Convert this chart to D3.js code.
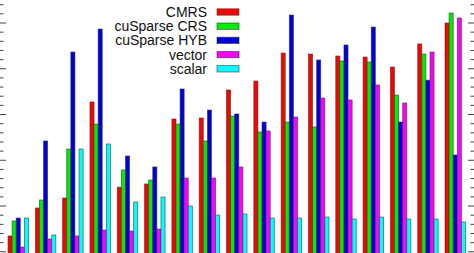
<!DOCTYPE html>
<html>
<head>
<meta charset="UTF-8">
<title>SpMV bars</title>
<style>
body { margin:0; background:white; }
</style>
</head>
<script src="https://d3js.org/d3.v7.min.js"></script>
<body>
<script type="text/javascript">
// matrices (x labels are cut off in the picture, so just numbered)
var groups = ["m1","m2","m3","m4","m5","m6","m7","m8","m9","m10","m11","m12","m13","m14","m15","m16","m17"]
var series = ["CMRS","cuSparse CRS","cuSparse HYB","vector","scalar"]
var colors = ["#ff0000","#00ee00","#0000dd","#ff00ff","#00ffff"]

var cmrs   = [1.73,4.79,5.88,16.37,7.06,7.41,14.51,14.62,17.68,18.66,21.72,21.61,21.39,21.28,20.19,22.71,25.00]
var cuCRS  = [3.37,5.66,11.23,13.96,8.94,7.84,13.96,12.11,14.84,13.09,14.18,13.64,20.85,20.74,17.13,21.61,26.09]
var cuHYB  = [3.69,12.11,21.83,24.34,10.47,9.27,17.79,15.49,15.06,14.18,25.87,20.96,22.60,24.56,14.18,18.75,10.58]
var vector = [0.52,1.40,1.73,2.38,2.27,2.49,8.06,8.06,9.27,13.20,14.73,16.80,16.59,18.23,16.26,21.83,25.55]
var scalar = [3.69,1.84,11.23,11.78,5.44,5.99,5.00,4.02,4.13,3.69,3.69,3.80,3.58,3.80,3.58,3.58,3.26]

var values = [cmrs,cuCRS,cuHYB,vector,scalar]
var ticks = d3.range(0,28)

var W = 474, H = 253

var svg = d3.select("body")
  .append("svg")
  .attr("width",W)
  .attr("height",H)
  .style("display","block")
  .style("background","white")

var x = d3.scaleBand()
  .domain(groups)
  .range([4.6, 468.9])
  .paddingInner(0.25)
  .paddingOuter(0.125)

var xs = d3.scaleBand()
  .domain(series)
  .range([0, x.bandwidth()])

var y = d3.scaleLinear()
  .domain([0,25])
  .range([251.8, 23])

// bars
var g = svg.selectAll("g.grp")
  .data(groups).enter()
  .append("g")
  .attr("class","grp")
  .attr("transform", function(d) { return "translate(" + x(d) + ",0)" })

g.selectAll("rect")
  .data(function(d,i) { return series.map(function(s,j) { return {s:s, j:j, v:values[j][i]} }) })
  .enter()
  .append("rect")
  .attr("x", function(d) { return xs(d.s) })
  .attr("y", function(d) { return y(d.v) })
  .attr("width", xs.bandwidth())
  .attr("height", function(d) { return H + 2 - y(d.v) })
  .attr("fill", function(d) { return colors[d.j] })
  .attr("stroke", "#333")
  .attr("stroke-opacity", 0.7)
  .attr("stroke-width", 0.8)

// ticks on both sides, long every 5
function tickLen(d) { return d % 5 == 0 ? 6 : 3.5 }

var left = svg.append("g").attr("class","ticks")
left.selectAll("line")
  .data(ticks).enter()
  .append("line")
  .attr("x1", 0)
  .attr("x2", function(d) { return tickLen(d) })
  .attr("y1", function(d) { return y(d) })
  .attr("y2", function(d) { return y(d) })

var right = svg.append("g").attr("class","ticks")
right.selectAll("line")
  .data(ticks).enter()
  .append("line")
  .attr("x1", W)
  .attr("x2", function(d) { return W - tickLen(d) })
  .attr("y1", function(d) { return y(d) })
  .attr("y2", function(d) { return y(d) })

svg.selectAll("g.ticks line")
  .attr("stroke","#444")
  .attr("stroke-width",1)

// legend
var leg = svg.append("g")
  .attr("transform","translate(0,12)")

var row = leg.selectAll("g")
  .data(series).enter()
  .append("g")
  .attr("transform", function(d,i) { return "translate(0," + (i*14.2) + ")" })

row.append("text")
  .attr("x", 207)
  .attr("y", 0)
  .attr("dy", "0.36em")
  .attr("text-anchor","end")
  .style("font-family","'Liberation Sans', Arial, sans-serif")
  .style("font-size","14px")
  .attr("fill","#111")
  .text(function(d) { return d })

row.append("rect")
  .attr("x", 217)
  .attr("y", -3.2)
  .attr("width", 22)
  .attr("height", 6.4)
  .attr("fill", function(d,i) { return colors[i] })
  .attr("stroke", "#333")
  .attr("stroke-opacity", 0.7)
  .attr("stroke-width", 0.8)
</script>
</body>
</html>
